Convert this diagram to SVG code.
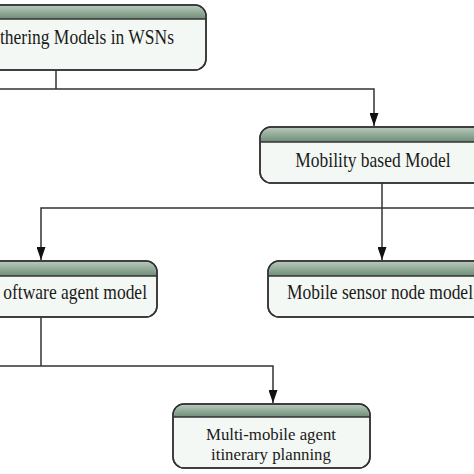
<svg xmlns="http://www.w3.org/2000/svg" width="474" height="474" viewBox="0 0 474 474">
<defs>
<linearGradient id="hdr" x1="0" y1="0" x2="0" y2="1">
<stop offset="0" stop-color="#b4c7b8"/>
<stop offset="1" stop-color="#6f8c78"/>
</linearGradient>
<marker id="arr" viewBox="0 0 13 9" refX="13" refY="4.5" markerWidth="13" markerHeight="9" markerUnits="userSpaceOnUse" orient="auto">
<path d="M0,0 L13,4.5 L0,9 z" fill="#111"/>
</marker>
</defs>
<style>
.body{fill:#f4f8f4;stroke:#333;stroke-width:1.5}
.head{fill:url(#hdr)}
.sep{stroke:#333;stroke-width:1.5}
.lbl{font-family:"Liberation Serif","Times New Roman",serif;font-size:17.5px;fill:#1a1a1a}
.sm{font-size:16.8px}
.con{fill:none;stroke:#333;stroke-width:1.5}
</style>
<rect width="474" height="474" fill="#ffffff"/>
<g id="connectors">
<path class="con" d="M56,70 V89"/>
<path class="con" d="M0,89 H374 V126" marker-end="url(#arr)"/>
<path class="con" d="M382,183 V260" marker-end="url(#arr)"/>
<path class="con" d="M474,208 H41 V260" marker-end="url(#arr)"/>
<path class="con" d="M41,317 V366"/>
<path class="con" d="M0,366 H273 V403" marker-end="url(#arr)"/>
</g>
<g id="node-data-gathering">
<rect class="body" x="-60" y="5" width="266" height="65" rx="11"/>
<path class="head" d="M-59,19 V16 A10,10 0 0 1 -49,6 H195 A10,10 0 0 1 205,16 V19 Z"/>
<line class="sep" x1="-60" y1="19" x2="206" y2="19"/>
<rect x="-60" y="5" width="266" height="65" rx="11" fill="none" stroke="#333" stroke-width="1.5"/>
<text class="lbl" transform="translate(174,44) scale(1,1.2)" text-anchor="end">thering Models in WSNs</text>
</g>
<g id="node-mobility">
<rect class="body" x="260" y="127" width="230" height="56" rx="11"/>
<path class="head" d="M261,142 V138 A10,10 0 0 1 271,128 H479 A10,10 0 0 1 489,138 V142 Z"/>
<line class="sep" x1="260" y1="142" x2="490" y2="142"/>
<rect x="260" y="127" width="230" height="56" rx="11" fill="none" stroke="#333" stroke-width="1.5"/>
<text class="lbl" transform="translate(373,167) scale(1,1.2)" text-anchor="middle">Mobility based Model</text>
</g>
<g id="node-software">
<rect class="body" x="-80" y="261" width="237" height="56" rx="11"/>
<path class="head" d="M-79,276 V272 A10,10 0 0 1 -69,262 H146 A10,10 0 0 1 156,272 V276 Z"/>
<line class="sep" x1="-80" y1="276" x2="157" y2="276"/>
<rect x="-80" y="261" width="237" height="56" rx="11" fill="none" stroke="#333" stroke-width="1.5"/>
<text class="lbl" transform="translate(147,299) scale(1,1.2)" text-anchor="end">oftware agent model</text>
</g>
<g id="node-mobile-sensor">
<rect class="body" x="268" y="261" width="232" height="56" rx="11"/>
<path class="head" d="M269,276 V272 A10,10 0 0 1 279,262 H489 A10,10 0 0 1 499,272 V276 Z"/>
<line class="sep" x1="268" y1="276" x2="500" y2="276"/>
<rect x="268" y="261" width="232" height="56" rx="11" fill="none" stroke="#333" stroke-width="1.5"/>
<text class="lbl" transform="translate(287,299) scale(1,1.2)">Mobile sensor node model</text>
</g>
<g id="node-multi-mobile">
<rect class="body" x="173" y="404" width="197" height="64" rx="11"/>
<path class="head" d="M174,417 V415 A10,10 0 0 1 184,405 H359 A10,10 0 0 1 369,415 V417 Z"/>
<line class="sep" x1="173" y1="417" x2="370" y2="417"/>
<rect x="173" y="404" width="197" height="64" rx="11" fill="none" stroke="#333" stroke-width="1.5"/>
<text class="lbl sm" x="271" y="440" text-anchor="middle">Multi-mobile agent</text>
<text class="lbl sm" x="271" y="460" text-anchor="middle">itinerary planning</text>
</g>
</svg>
